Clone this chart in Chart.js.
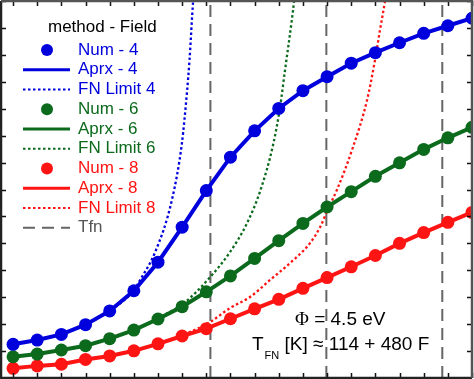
<!DOCTYPE html>
<html>
<head>
<meta charset="utf-8">
<script src="https://cdn.jsdelivr.net/npm/chart.js@4"></script>
<style>
html,body{margin:0;padding:0;background:#fff;}
canvas{display:block;}
</style>
</head>
<body>
<canvas id="c" width="474" height="379"></canvas>
<script>
// ---- data ----
const temps = [400,600,800,1000,1200,1400,1600,1800,2000,2200,2400,2600,2800,3000,3200,3400,3600,3800,4000,4200];
const num4  = [1.25,1.41,1.62,1.98,2.49,3.24,4.30,5.60,6.96,8.20,9.18,10.01,10.67,11.19,11.69,12.08,12.45,12.80,13.08,13.36];
const num6  = [0.79,0.89,1.04,1.20,1.46,1.78,2.19,2.65,3.20,3.79,4.44,5.10,5.74,6.35,6.92,7.49,7.99,8.49,8.92,9.31];
const num8  = [0.36,0.45,0.51,0.69,0.82,1.01,1.27,1.56,1.83,2.20,2.57,2.92,3.33,3.73,4.13,4.55,5.00,5.40,5.78,6.15];
const aprx4 = [1.25,1.41,1.62,1.98,2.49,3.24,4.30,5.60,6.96,8.20,9.18,10.01,10.67,11.19,11.69,12.08,12.45,12.80,13.08,13.36];
const aprx6 = [0.79,0.89,1.04,1.20,1.46,1.78,2.19,2.65,3.20,3.79,4.44,5.10,5.74,6.35,6.92,7.49,7.99,8.49,8.92,9.31];
const aprx8 = [0.36,0.45,0.51,0.69,0.82,1.01,1.27,1.56,1.83,2.20,2.57,2.92,3.33,3.73,4.13,4.55,5.00,5.40,5.78,6.15];
const fn4T = [400,600,800,1000,1200,1400,1453,1577,1715,1798,1839,1861,1891,1905];
const fn4V = [1.25,1.41,1.62,1.98,2.49,3.26,3.65,4.68,6.61,8.72,10.57,11.81,14.0,14.6];
const fn6T = [400,600,800,1000,1200,1400,1600,1825,2032,2197,2336,2446,2556,2611,2652,2708,2727,2740];
const fn6V = [0.79,0.89,1.04,1.20,1.46,1.78,2.22,2.82,3.75,4.68,5.74,6.94,8.72,10.07,11.44,13.29,14.0,14.6];
const fn8T = [400,600,800,1000,1200,1400,1600,1809,2032,2197,2363,2528,2694,2859,2942,3008,3083,3215,3331,3397,3438,3480,3500];
const fn8V = [0.36,0.45,0.51,0.69,0.82,1.01,1.27,1.60,2.08,2.60,3.01,3.64,4.27,5.01,5.60,6.28,7.00,8.58,10.32,11.81,12.92,14.0,14.6];
const fields = [4, 6, 8];
const tfnTemps = [2034, 2994, 3954];
const xTicks = [400,600,800,1000,1200,1400,1600,1800,2000,2200,2400,2600,2800,3000,3200,3400,3600,3800,4000,4200];
const yTicks = [0,1,2,3,4,5,6,7,8,9,10,11,12,13,14];
const legendTitle = "method - Field";
const labels = ["Num - 4","Aprx - 4","FN Limit 4","Num - 6","Aprx - 6","FN Limit 6","Num - 8","Aprx - 8","FN Limit 8","Tfn"];

const BLUE = '#0000dd', GREEN = '#0c6a1c', RED = '#ff1414', GRAY = '#666666';
const xy = (xs, ys) => xs.map((x, i) => ({x: x, y: ys[i]}));

function numDs(label, vals, color){
  return {label, data: xy(temps, vals), showLine: false, pointRadius: 6.5, pointHoverRadius: 6.5,
    backgroundColor: color, borderColor: color, pointBorderWidth: 0, order: 0, clip: 0, kind: 'point'};
}
function aprxDs(label, vals, color){
  return {label, data: xy(temps, vals), showLine: true, pointRadius: 0, borderColor: color,
    borderWidth: 4, order: 1, clip: 0, kind: 'line'};
}
function fnDs(label, xs, ys, color){
  return {label, data: xy(xs, ys), showLine: true, pointRadius: 0, borderColor: color,
    borderWidth: 2.3, borderDash: [2.5, 2.5], order: 2, clip: 0, kind: 'dot', cubicInterpolationMode: 'monotone'};
}
const tfnData = [];
tfnTemps.forEach((t, i) => {
  if (i > 0) tfnData.push({x: t - 100, y: null});
  tfnData.push({x: t, y: 0});
  tfnData.push({x: t, y: 14});
});

const datasets = [
  numDs(labels[0], num4, BLUE), aprxDs(labels[1], aprx4, BLUE), fnDs(labels[2], fn4T, fn4V, BLUE),
  numDs(labels[3], num6, GREEN), aprxDs(labels[4], aprx6, GREEN), fnDs(labels[5], fn6T, fn6V, GREEN),
  numDs(labels[6], num8, RED), aprxDs(labels[7], aprx8, RED), fnDs(labels[8], fn8T, fn8V, RED),
  {label: labels[9], data: tfnData, showLine: true, spanGaps: false, pointRadius: 0, borderColor: GRAY,
   borderWidth: 2, borderDash: [12, 7], order: 3, clip: 0, kind: 'dash'}
];

const SANS = '"Liberation Sans", Arial, Helvetica, sans-serif';

const decor = {
  id: 'decor',
  afterDraw(chart){
    const ctx = chart.ctx, a = chart.chartArea;
    const xs = chart.scales.x, ys = chart.scales.y;
    ctx.save();
    // inward ticks
    ctx.strokeStyle = '#111'; ctx.lineWidth = 1.5; ctx.setLineDash([]);
    xTicks.forEach(v => {
      const px = Math.round(xs.getPixelForValue(v)) + 0.5;
      ctx.beginPath();
      ctx.moveTo(px, a.bottom); ctx.lineTo(px, a.bottom - 5);
      ctx.moveTo(px, a.top); ctx.lineTo(px, a.top + 5);
      ctx.stroke();
    });
    yTicks.forEach(v => {
      const py = Math.round(ys.getPixelForValue(v)) + 0.5;
      ctx.beginPath();
      ctx.moveTo(a.left, py); ctx.lineTo(a.left + 5, py);
      ctx.moveTo(a.right, py); ctx.lineTo(a.right - 5, py);
      ctx.stroke();
    });
    // frame
    ctx.lineWidth = 2.5;
    ctx.strokeStyle = '#222';
    ctx.beginPath(); ctx.moveTo(a.left, a.top); ctx.lineTo(a.left, a.bottom); ctx.lineTo(a.right, a.bottom); ctx.stroke();
    ctx.strokeStyle = '#555';
    ctx.beginPath(); ctx.moveTo(a.left, a.top); ctx.lineTo(a.right, a.top); ctx.lineTo(a.right, a.bottom); ctx.stroke();

    // legend
    ctx.textBaseline = 'middle';
    ctx.font = '17px ' + SANS;
    ctx.fillStyle = '#000';
    ctx.textAlign = 'left';
    ctx.fillText(legendTitle, 48, 27);
    chart.data.datasets.forEach((ds, i) => {
      const y = 50 + i * 19.75;
      ctx.save();
      if (ds.kind === 'point') {
        ctx.fillStyle = ds.backgroundColor;
        ctx.beginPath(); ctx.arc(47, y, 6, 0, Math.PI * 2); ctx.fill();
      } else {
        ctx.strokeStyle = ds.borderColor;
        ctx.lineWidth = ds.kind === 'line' ? 3 : 2;
        ctx.setLineDash(ds.borderDash || []);
        ctx.beginPath(); ctx.moveTo(23, y); ctx.lineTo(70, y); ctx.stroke();
      }
      ctx.restore();
      ctx.fillStyle = ds.kind === 'dash' ? '#555' : ds.borderColor;
      ctx.font = '17px ' + SANS;
      ctx.fillText(ds.label, 78, y);
    });

    // annotation text
    ctx.fillStyle = '#000';
    ctx.textBaseline = 'alphabetic';
    let x = 295, base = 325;
    ctx.font = '19px "Liberation Serif", "Times New Roman", serif';
    ctx.fillText('\u03A6', x, base);
    x += ctx.measureText('\u03A6').width;
    ctx.font = '19px ' + SANS;
    ctx.fillText(' = 4.5 eV', x, base);

    x = 252; base = 350;
    ctx.font = '19px ' + SANS;
    ctx.fillText('T', x, base);
    x += ctx.measureText('T').width;
    ctx.font = '11px ' + SANS;
    ctx.fillText('FN', x + 1, base + 9);
    x += ctx.measureText('FN').width + 1;
    ctx.font = '19px ' + SANS;
    ctx.fillText(' [K] \u2248 114 + 480 F', x, base);
    ctx.restore();
  }
};

new Chart(document.getElementById('c'), {
  type: 'scatter',
  data: { datasets },
  options: {
    responsive: false,
    animation: false,
    devicePixelRatio: 1,
    layout: { autoPadding: false, padding: { left: 1, top: 1, right: 2, bottom: 1 } },
    scales: {
      x: { type: 'linear', min: 300, max: 4200, display: false },
      y: { type: 'linear', min: 0, max: 14, display: false }
    },
    plugins: { legend: { display: false }, tooltip: { enabled: false } },
    events: []
  },
  plugins: [decor]
});
</script>
</body>
</html>
